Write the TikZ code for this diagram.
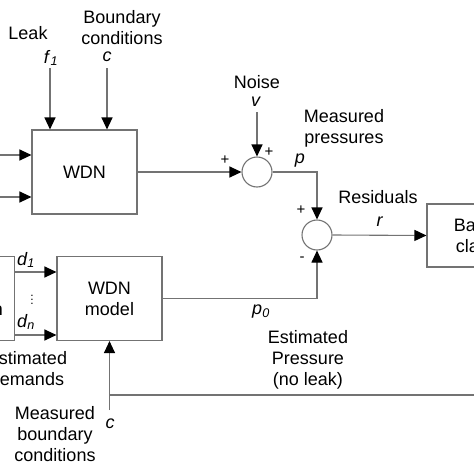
\documentclass[tikz,border=0pt]{standalone}
\usepackage{fontspec}
\setmainfont{Liberation Sans}
\usetikzlibrary{arrows.meta,positioning}
\newcommand{\sig}[2]{\textit{#1}\textsubscript{\textit{#2}}}

\begin{document}
\begin{tikzpicture}[x=1pt, y=-1pt,
        >={Triangle[length=12pt,width=11pt,color=black]},
        every node/.style={font=\fontsize{18}{21}\selectfont}]
        \tikzstyle{blockStyle} = [draw=black!55, line width=1.1pt, align=center,
            minimum width=105pt, minimum height=84pt, inner sep=0pt]
        \tikzstyle{sumStyle} = [circle, draw=black!55, line width=1.1pt,
            minimum size=30pt, inner sep=0pt]
        \tikzstyle{greyEdge} = [draw=black!55, line width=1.1pt]
        \tikzstyle{labelStyle} = [align=center, inner sep=0pt]
        \useasboundingbox (0,0) rectangle (474,474);
        \clip (0,0) rectangle (474,474);
        % blocks
        \node[blockStyle] (wdn) at (84.5,172) {WDN};
        \node[blockStyle] (model) at (109.5,298.5) {WDN\\model};
        \node[blockStyle] (est) at (-38,298.5) {Demand\\estimation};
        \node[blockStyle, minimum width=128pt, minimum height=63pt] (clf) at (491,235.5) {Bayesian\\classifier};
        \node[sumStyle] (sum1) at (257,172) {};
        \node[sumStyle] (sum2) at (317,235) {};
        % free ends
        \coordinate (leakTop) at (50,68);
        \coordinate (bcTop) at (107,68);
        \coordinate (noiseTop) at (257,112);
        \coordinate (in1) at (-20,155);
        \coordinate (in2) at (-20,197);
        \coordinate (mbc) at (109.5,410);
        \coordinate (fbTurn) at (109.5,395);
        \coordinate (fbEnd) at (500,395);
        % texts
        \node[labelStyle] (leak) at (28,33) {Leak};
        \node[labelStyle] (f1) at (51,58) {\sig{f}{1}};
        \node[labelStyle] (bc) at (122,28) {Boundary\\conditions};
        \node[labelStyle] (c1) at (107,57) {\textit{c}};
        \node[labelStyle] (noise) at (257,82) {Noise};
        \node[labelStyle] (v) at (256,102) {\textit{v}};
        \node[labelStyle] (mp) at (344,128) {Measured\\pressures};
        \node[labelStyle] (p) at (300,161) {\textit{p}};
        \node[labelStyle] (res) at (378,197) {Residuals};
        \node[labelStyle] (r) at (380,222) {\textit{r}};
        \node[labelStyle] (p0) at (261,312) {\sig{p}{0}};
        \node[labelStyle] (ep) at (308,360) {Estimated\\Pressure\\(no leak)};
        \node[labelStyle] (d1) at (26,260) {\sig{d}{1}};
        \node[labelStyle] (dn) at (26,322) {\sig{d}{n}};
        \node[labelStyle, font=\fontsize{12}{12}\selectfont] (dots) at (32,297) {$\vdots$};
        \node[labelStyle] (ed) at (27,369) {Estimated\\demands};
        \node[labelStyle] (mbcText) at (55,434) {Measured\\boundary\\conditions};
        \node[labelStyle] (c2) at (110,424) {\textit{c}};
        \foreach \name/\pos in {pl1/{(225,160)}, pl2/{(269,152)}, pl3/{(301,210)}}
            \node[labelStyle, font=\fontsize{15}{15}\selectfont] (\name) at \pos {+};
        \node[labelStyle, font=\fontsize{15}{15}\selectfont] (mi) at (302,259) {-};
        % connectors
        \foreach \from/\to in {leakTop/wdn.north-|leakTop, bcTop/wdn.north-|bcTop,
                                noiseTop/sum1.north, wdn.east/sum1.west,
                                sum2.east/clf.west, mbc/model.south}
            \path[greyEdge, ->] (\from) -- (\to);
        \path[greyEdge, ->] (in1) -- (wdn.west|-in1);
        \path[greyEdge, ->] (in2) -- (wdn.west|-in2);
        \path[greyEdge, ->] (est.east|-0,272) -- (model.west|-0,272);
        \path[greyEdge, ->] (est.east|-0,335) -- (model.west|-0,335);
        \path[greyEdge, ->] (sum1.east) -| (sum2.north);
        \path[greyEdge, ->] (model.east) -| (sum2.south);
        \path[greyEdge] (fbTurn) -- (fbEnd);
    \end{tikzpicture}
\end{document}
